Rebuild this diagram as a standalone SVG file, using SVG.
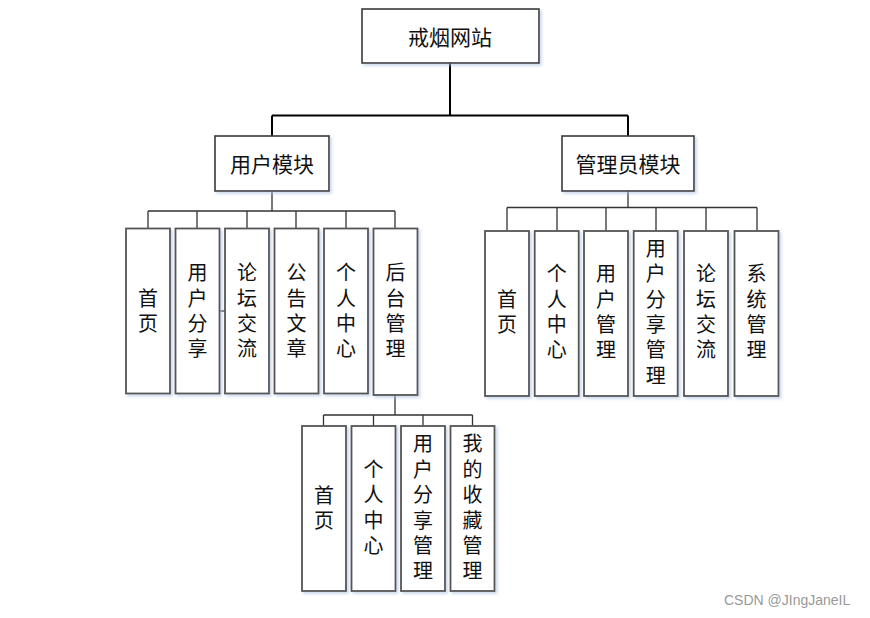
<svg xmlns="http://www.w3.org/2000/svg" width="870" height="618" viewBox="0 0 870 618">
<defs>
<filter id="sh" x="-20%" y="-20%" width="150%" height="150%">
<feDropShadow dx="2" dy="2" stdDeviation="1.5" flood-color="#a9bfe0" flood-opacity="0.6"/>
</filter>
<style>
.box{fill:#fff;stroke:#3a3a3a;stroke-width:1.6;filter:url(#sh)}
.cbox{fill:#fff;stroke:#555;stroke-width:1.8;filter:url(#sh)}
.t{font-family:"Noto Sans CJK SC","Noto Sans",sans-serif;font-size:20px;fill:#111;text-anchor:middle;dominant-baseline:central}
.th{font-size:21px}
.v{font-family:"Noto Sans CJK SC","Noto Sans",sans-serif;font-size:20px;fill:#111;text-anchor:middle;writing-mode:vertical-rl;letter-spacing:5.4px}
.main{fill:none;stroke:#000;stroke-width:2}
.sub{fill:none;stroke:#333;stroke-width:1.3}
.wm{font-family:"Liberation Sans",Arial,sans-serif;font-size:14px;fill:#999}
</style>
</defs>
<rect width="870" height="618" fill="#fff"/>
<g id="connectors">
<path class="main" d="M450,63 V115.5 M272,115.5 H628 M272,115.5 V136 M628,115.5 V136"/>
<path class="sub" d="M272,191 V211 M148,211 H395 M148,211 V228 M197,211 V228 M247,211 V228 M296,211 V228 M346,211 V228 M395,211 V228"/>
<path class="sub" d="M219.5,311 H225"/>
<path class="sub" d="M628,191 V207.5 M507,207.5 H757 M507,207.5 V231 M557,207.5 V231 M606,207.5 V231 M656,207.5 V231 M706,207.5 V231 M757,207.5 V231"/>
<path class="sub" d="M395,395 V415 M323.5,415 H472.5 M323.5,415 V426 M373.5,415 V426 M423,415 V426 M472.5,415 V426"/>
</g>
<g id="root"><rect class="box" x="362" y="9" width="177" height="54"/><text class="t th" x="450" y="36">戒烟网站</text></g>
<g id="user"><rect class="box" x="215" y="136" width="114" height="55"/><text class="t th" x="272" y="163">用户模块</text></g>
<g id="admin"><rect class="box" x="562" y="136" width="132" height="55"/><text class="t th" x="628" y="163">管理员模块</text></g>

<g id="u1"><rect class="cbox" x="126" y="228.5" width="44" height="165"/><text class="v" x="148" y="313.5">首页</text></g>
<g id="u2"><rect class="cbox" x="175.5" y="228.5" width="44" height="165"/><text class="v" x="197.5" y="313.5">用户分享</text></g>
<g id="u3"><rect class="cbox" x="225" y="228.5" width="44" height="165"/><text class="v" x="247" y="313.5">论坛交流</text></g>
<g id="u4"><rect class="cbox" x="274.5" y="228.5" width="44" height="165"/><text class="v" x="296.5" y="313.5">公告文章</text></g>
<g id="u5"><rect class="cbox" x="324" y="228.5" width="44" height="165"/><text class="v" x="346" y="313.5">个人中心</text></g>
<g id="u6"><rect class="cbox" x="373.5" y="228.5" width="44" height="166.5"/><text class="v" x="395.5" y="313.5">后台管理</text></g>

<g id="a1"><rect class="cbox" x="485" y="231" width="44" height="165"/><text class="v" x="507" y="314.5">首页</text></g>
<g id="a2"><rect class="cbox" x="534.7" y="231" width="44" height="165"/><text class="v" x="556.7" y="314.5">个人中心</text></g>
<g id="a3"><rect class="cbox" x="584" y="231" width="44" height="165"/><text class="v" x="606" y="314.5">用户管理</text></g>
<g id="a4"><rect class="cbox" x="633.7" y="231" width="44" height="165"/><text class="v" x="655.7" y="314.5">用户分享管理</text></g>
<g id="a5"><rect class="cbox" x="684" y="231" width="44" height="165"/><text class="v" x="706" y="314.5">论坛交流</text></g>
<g id="a6"><rect class="cbox" x="734.5" y="231" width="44" height="165"/><text class="v" x="756.5" y="314.5">系统管理</text></g>

<g id="b1"><rect class="cbox" x="302" y="426" width="44" height="165"/><text class="v" x="324" y="510.5">首页</text></g>
<g id="b2"><rect class="cbox" x="351.5" y="426" width="44" height="165"/><text class="v" x="373.5" y="510">个人中心</text></g>
<g id="b3"><rect class="cbox" x="401" y="426" width="44" height="165"/><text class="v" x="423" y="510">用户分享管理</text></g>
<g id="b4"><rect class="cbox" x="450.5" y="426" width="44" height="165"/><text class="v" x="472.5" y="510">我的收藏管理</text></g>

<text class="wm" x="724" y="605">CSDN @JIngJaneIL</text>
</svg>
